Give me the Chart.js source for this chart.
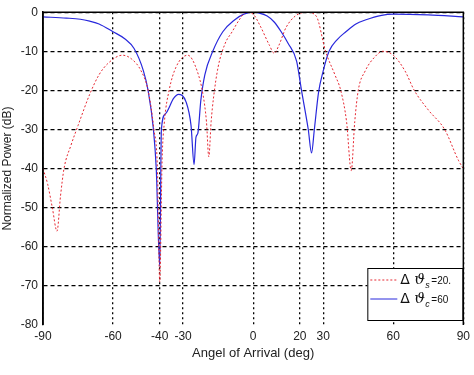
<!DOCTYPE html>
<html>
<head>
<meta charset="utf-8">
<script src="https://cdn.jsdelivr.net/npm/chart.js@4/dist/chart.umd.min.js"></script>
<style>
  html, body { margin: 0; padding: 0; background: #fff; }
  #wrap { width: 474px; height: 375px; }
</style>
</head>
<body>
<div id="wrap"><canvas id="beamChart"></canvas></div>
<script>
// Δϑs = 20 (red dotted)
const angleS = [-90, -88, -86, -84, -82.5, -81, -78, -75, -70, -66, -62, -56, -52, -48, -45, -42.5, -41, -40, -39, -38, -36, -33, -28, -24, -21.5, -20, -19, -18, -17, -15, -12, -9, -6, -3, 0, 3, 7, 9, 11, 14, 18, 23, 27, 31, 35, 37.5, 40, 42, 43.5, 45, 48, 52, 55.5, 60, 65, 69, 75, 82, 88, 90];
const powerS = [-40, -44, -50, -56, -47, -40, -34, -29, -21, -16, -13, -11, -12, -15, -20, -30, -40, -69, -38, -28, -20, -14, -11, -15, -21, -28, -37, -28, -22, -14, -8, -5, -2, 0, -0.5, -3.5, -8.5, -10.5, -8.5, -4, -1, 0, -1, -10, -16, -20, -28, -40.5, -28, -20, -15, -11.5, -10, -11, -15, -20, -25, -30, -38, -40];

// Δϑc = 60 (blue solid)
const angleC = [-90, -80, -74, -70, -66, -60, -55, -51, -47, -45, -42.7, -41.5, -40, -39.3, -37.6, -34, -32, -28.7, -26.6, -25.3, -24.5, -23.7, -22.4, -20.7, -17.3, -13, -8, -4, 0, 3, 6, 9, 12, 15, 18.6, 20.7, 23.6, 25, 26.2, 28, 30, 32.5, 36, 39.7, 44, 48, 55, 60, 75, 90];
const powerC = [-1.2, -1.5, -1.8, -2.3, -3, -5, -6.8, -9.3, -15, -20, -30, -40, -65, -30, -26, -22, -21, -23, -29, -39, -32, -31, -22.5, -16, -10, -5, -2, -0.5, 0, -0.3, -1, -2.5, -5, -8, -12.5, -20, -30, -36, -30, -20.5, -15, -10, -7, -5, -3, -2, -0.8, -0.5, -0.7, -1.2];

const xTicks = [-90, -60, -40, -30, 0, 20, 30, 60, 90];
const yMin = -80, yMax = 0, yStep = 10;

const toPoints = (xs, ys) => xs.map((x, i) => ({ x: x, y: ys[i] }));

const tickFont = { family: "'Liberation Sans', Arial, sans-serif", size: 12 };

// box + custom legend drawn inside the plot, lower right
const frameAndLegend = {
    id: 'frameAndLegend',
    afterDraw(chart) {
        const { ctx, chartArea: a } = chart;
        ctx.save();
        ctx.strokeStyle = '#000';
        ctx.lineWidth = 1.5;
        ctx.beginPath();
        ctx.moveTo(a.left, a.bottom);
        ctx.lineTo(a.left, a.top);
        ctx.lineTo(a.right, a.top);
        ctx.lineTo(a.right, a.bottom);
        ctx.stroke();

        const bx = a.right - 96, by = a.bottom - 57, bw = 95, bh = 52;
        ctx.fillStyle = '#fff';
        ctx.fillRect(bx, by, bw, bh);
        ctx.lineWidth = 1;
        ctx.strokeRect(bx + 0.5, by + 0.5, bw, bh);

        const rows = [
            { sub: 's', val: '=20.', color: 'rgb(230,40,50)', dash: [2, 2] },
            { sub: 'c', val: '=60', color: 'rgb(40,40,220)', dash: [] }
        ];
        rows.forEach((r, i) => {
            const y = by + 12 + i * 19;
            ctx.strokeStyle = r.color;
            ctx.lineWidth = 1;
            ctx.setLineDash(r.dash);
            ctx.beginPath();
            ctx.moveTo(bx + 3, y);
            ctx.lineTo(bx + 30, y);
            ctx.stroke();
            ctx.setLineDash([]);
            ctx.fillStyle = '#111';
            ctx.textBaseline = 'middle';
            ctx.font = "14px 'DejaVu Sans', sans-serif";
            ctx.fillText('\u0394', bx + 33, y);
            ctx.font = "italic 15px 'DejaVu Serif', serif";
            ctx.fillText('\u03D1', bx + 47, y);
            ctx.font = "italic 9px 'Liberation Sans', sans-serif";
            ctx.fillText(r.sub, bx + 58, y + 5);
            ctx.font = "10px 'Liberation Sans', sans-serif";
            ctx.fillText(r.val, bx + 64, y + 1);
        });
        ctx.restore();
    }
};

new Chart(document.getElementById('beamChart'), {
    type: 'line',
    data: {
        datasets: [
            {
                label: 'Δϑs=20.',
                data: toPoints(angleS, powerS),
                borderColor: 'rgb(230,40,50)',
                borderWidth: 1,
                borderDash: [2, 2],
                pointRadius: 0,
                cubicInterpolationMode: 'monotone',
            },
            {
                label: 'Δϑc=60',
                data: toPoints(angleC, powerC),
                borderColor: 'rgb(40,40,220)',
                borderWidth: 1.2,
                pointRadius: 0,
                cubicInterpolationMode: 'monotone',
            },
        ],
    },
    options: {
        responsive: true,
        maintainAspectRatio: false,
        animation: false,
        layout: { padding: { top: 5, right: 5, left: 0, bottom: 0 } },
        scales: {
            x: {
                type: 'linear',
                min: -90,
                max: 90,
                afterBuildTicks: (scale) => { scale.ticks = xTicks.map(v => ({ value: v })); },
                afterFit: (scale) => { scale.height = 50; },
                ticks: { font: tickFont, color: '#222', padding: 4, autoSkip: false, maxRotation: 0 },
                grid: { color: '#000', lineWidth: 1.3, drawTicks: false },
                border: { display: false, dash: [2, 3] },
                title: {
                    display: true,
                    text: 'Angel of Arrival (deg)',
                    font: { family: "'Liberation Sans', Arial, sans-serif", size: 13 },
                    color: '#222',
                    padding: { top: 0, bottom: 14 },
                },
            },
            y: {
                min: yMin,
                max: yMax,
                afterFit: (scale) => { scale.width = 43; },
                ticks: { stepSize: yStep, font: tickFont, color: '#222', padding: 5 },
                grid: {
                    color: (c) => (c.tick && c.tick.value === yMin) ? 'rgba(0,0,0,0)' : '#000',
                    lineWidth: 1.2,
                    drawTicks: false,
                },
                border: { display: true, color: '#000', width: 1.5, dash: [4, 3] },
                title: {
                    display: true,
                    text: 'Normalized Power (dB)',
                    font: { family: "'Liberation Sans', Arial, sans-serif", size: 12 },
                    color: '#222',
                    padding: { top: 0, bottom: 0 },
                },
            },
        },
        plugins: {
            legend: { display: false },
            tooltip: { enabled: false },
        },
    },
    plugins: [frameAndLegend],
});
</script>
</body>
</html>
